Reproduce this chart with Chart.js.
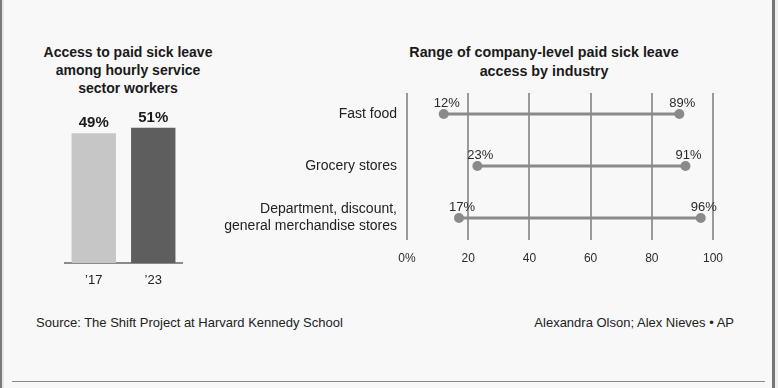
<!DOCTYPE html>
<html><head><meta charset="utf-8">
<script src="https://cdn.jsdelivr.net/npm/chart.js@4"></script>
<style>
html,body{margin:0;padding:0;width:778px;height:388px;overflow:hidden;background:#f8f8f8;font-family:"Liberation Sans",Arial,Helvetica,sans-serif;}
.abs{position:absolute;}
.title{font-weight:bold;font-size:14px;color:#1a1a1a;text-align:center;}
.foot{font-size:13px;line-height:15px;color:#222;white-space:nowrap;}
canvas{display:block;}
</style></head><body>
<div class="abs" style="left:0;top:0;width:2px;height:388px;background:#7a7a7a"></div>
<div class="abs" style="left:2px;top:0;width:2px;height:388px;background:#e6e6e6"></div>
<div class="abs" style="left:772px;top:0;width:3px;height:388px;background:#767676"></div>
<div class="abs" style="left:775px;top:0;width:3px;height:388px;background:#efefef"></div>
<div class="abs" style="left:12px;top:381px;width:753px;height:1px;background:#888"></div>

<div class="abs title" style="left:28px;top:43px;width:200px;line-height:18px">Access to paid sick leave<br>among hourly service<br>sector workers</div>
<div class="abs title" style="left:394px;top:43px;width:300px;line-height:19px;font-size:14.3px">Range of company-level paid sick leave<br>access by industry</div>

<div class="abs" style="left:64px;top:80px;width:119px;height:210px"><canvas id="c1" width="119" height="210"></canvas></div>
<div class="abs" style="left:200px;top:80px;width:530px;height:190px"><canvas id="c2" width="530" height="190"></canvas></div>

<div class="abs foot" style="left:36px;top:315px">Source: The Shift Project at Harvard Kennedy School</div>
<div class="abs foot" style="right:44px;top:315px">Alexandra Olson; Alex Nieves • AP</div>

<script>
const FONT = '"Liberation Sans", Arial, Helvetica, sans-serif';

// Left chart data
const barYears = ['’17', '’23'];
const barValues = [49, 51];
const barColors = ['#c6c6c6', '#5e5e5e'];

// Right chart data
const industries = ['Fast food', 'Grocery stores', ['Department, discount,', 'general merchandise stores']];
const lowShare = [12, 23, 17];
const highShare = [89, 91, 96];
const xTicks = [0, 20, 40, 60, 80, 100];

const barLabels = {
  id: 'barLabels',
  afterDatasetsDraw(chart) {
    const ctx = chart.ctx;
    const meta = chart.getDatasetMeta(0);
    ctx.save();
    ctx.font = 'bold 15px ' + FONT;
    ctx.fillStyle = '#1a1a1a';
    ctx.textAlign = 'center';
    ctx.textBaseline = 'middle';
    meta.data.forEach((el, i) => {
      ctx.fillText(chart.data.datasets[0].data[i] + '%', el.x, el.y - 10);
    });
    ctx.restore();
  }
};

new Chart(document.getElementById('c1'), {
  type: 'bar',
  data: {
    labels: barYears,
    datasets: [{ data: barValues, backgroundColor: barColors, categoryPercentage: 1, barPercentage: 0.746 }]
  },
  options: {
    responsive: false, animation: false, devicePixelRatio: 1,
    layout: { padding: { top: 24, left: 0, right: 0, bottom: 0 } },
    plugins: { legend: { display: false }, tooltip: { enabled: false } },
    scales: {
      y: { display: false, min: 0, max: 60 },
      x: {
        grid: { display: false, drawTicks: false },
        border: { display: true, color: '#8a8a8a', width: 2 },
        ticks: { color: '#222', font: { size: 13, family: FONT }, padding: 10 },
        afterFit: (a) => { a.height = 27; a.paddingLeft = 0; a.paddingRight = 0; }
      }
    }
  },
  plugins: [barLabels]
});

const pointLabels = {
  id: 'pointLabels',
  afterDatasetsDraw(chart) {
    const ctx = chart.ctx;
    ctx.save();
    ctx.font = '13px ' + FONT;
    ctx.fillStyle = '#2a2a2a';
    ctx.textAlign = 'center';
    ctx.textBaseline = 'middle';
    chart.data.datasets.forEach((ds, di) => {
      chart.getDatasetMeta(di).data.forEach((el, i) => {
        ctx.fillText(ds.data[i].x + '%', el.x + 3, el.y - 11);
      });
    });
    ctx.restore();
  }
};

new Chart(document.getElementById('c2'), {
  type: 'line',
  data: {
    datasets: industries.map((name, i) => ({
      data: [{ x: lowShare[i], y: i }, { x: highShare[i], y: i }],
      borderColor: '#8a8a8a', borderWidth: 3,
      pointRadius: 5, pointBackgroundColor: '#8a8a8a', pointBorderWidth: 0
    }))
  },
  options: {
    responsive: false, animation: false, devicePixelRatio: 1,
    layout: { padding: { top: 13, right: 17, left: 0, bottom: 0 } },
    plugins: { legend: { display: false }, tooltip: { enabled: false } },
    scales: {
      x: {
        type: 'linear', min: 0, max: 100,
        afterBuildTicks: (a) => { a.ticks = xTicks.map(v => ({ value: v })); },
        grid: { color: '#9a9a9a', lineWidth: 2, drawTicks: false },
        border: { display: false },
        ticks: { color: '#2a2a2a', font: { size: 12, family: FONT }, padding: 11,
                 callback: (v) => v === 0 ? '0%' : String(v) },
        afterFit: (a) => { a.height = 30; a.paddingLeft = 0; a.paddingRight = 0; a.paddingTop = 0; a.paddingBottom = 0; }
      },
      y: {
        type: 'linear', reverse: true, min: -0.404, max: 2.423,
        afterBuildTicks: (a) => { a.ticks = industries.map((_, i) => ({ value: i })); },
        grid: { display: false, drawTicks: false },
        border: { display: false },
        ticks: { color: '#222', font: { size: 14, family: FONT }, padding: 10,
                 callback: (v) => industries[v] },
        afterFit: (a) => { a.width = 207; a.paddingTop = 0; a.paddingBottom = 0; a.paddingLeft = 0; a.paddingRight = 0; }
      }
    }
  },
  plugins: [pointLabels]
});
</script>
</body></html>
